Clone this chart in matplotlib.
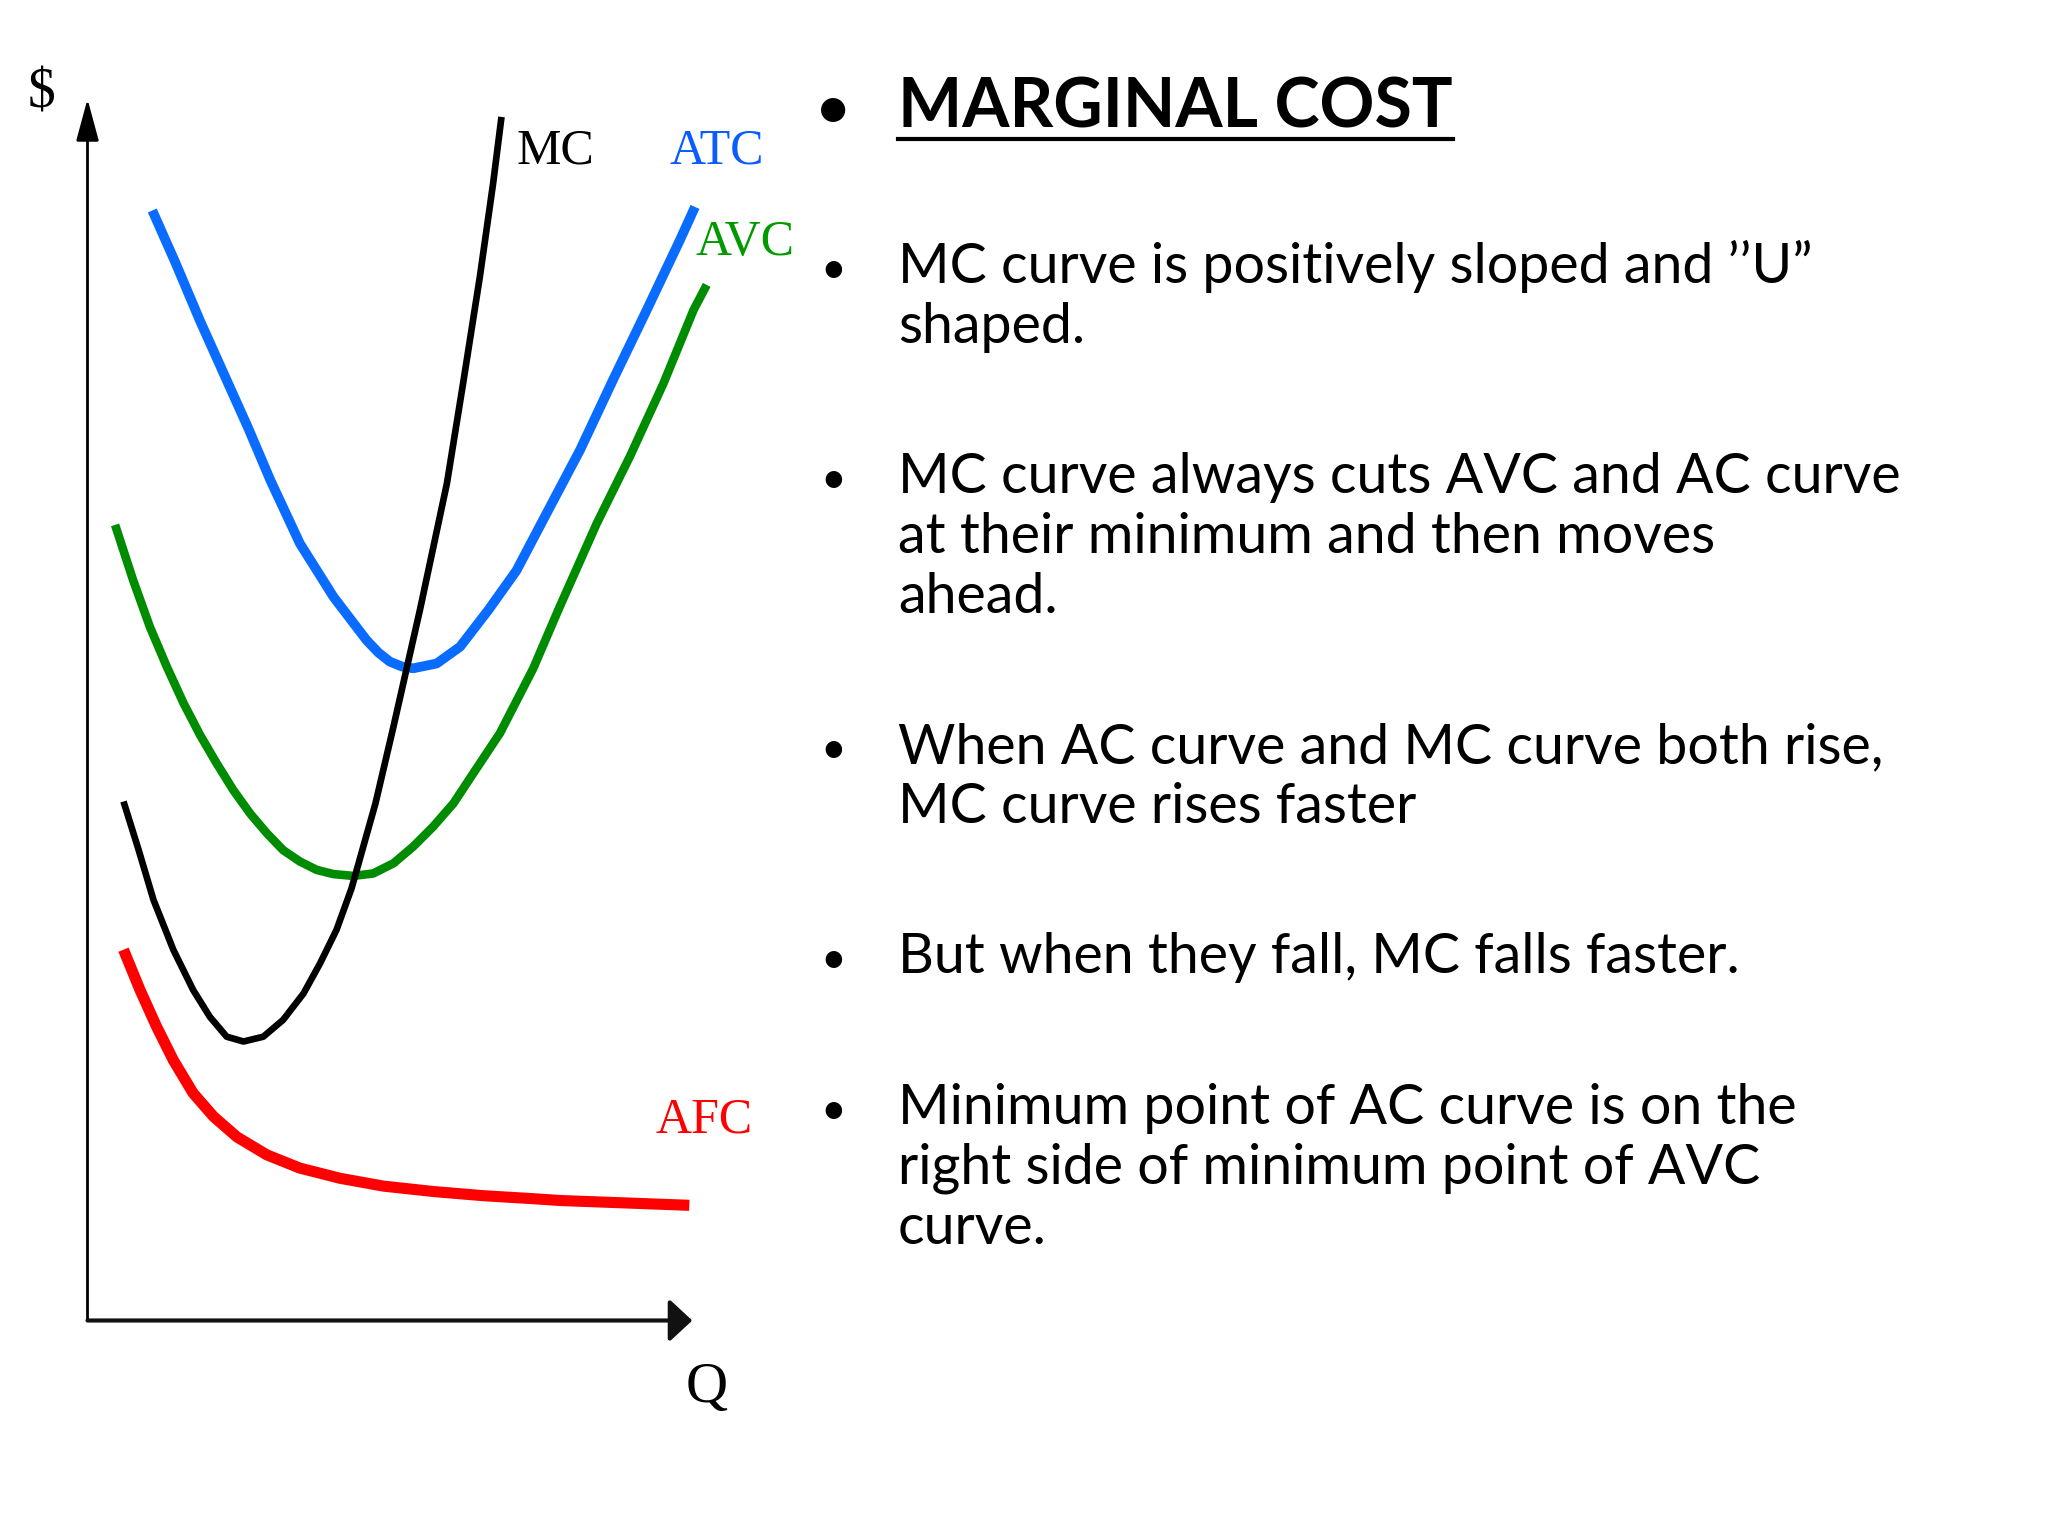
import matplotlib
matplotlib.use("Agg")
import matplotlib.pyplot as plt
from matplotlib.lines import Line2D

# ---- curve data (Q, cost) ----
atc_q = [1.08, 1.47, 1.88, 2.28, 2.68, 3.05, 3.54, 4.10, 4.65, 4.85, 5.04, 5.24, 5.43,
         5.82, 6.21, 6.68, 7.15, 7.65, 8.21, 8.76, 9.32, 9.875, 10.125]
atc_c = [18.50, 17.62, 16.65, 15.76, 14.87, 14.00, 12.95, 12.06, 11.34, 11.13, 10.98, 10.90, 10.87,
         10.95, 11.23, 11.84, 12.50, 13.45, 14.51, 15.68, 16.84, 18.01, 18.56]

avc_q = [0.46, 0.76, 1.04, 1.32, 1.60, 1.875, 2.15, 2.43, 2.71, 2.99, 3.26, 3.54, 3.82,
         4.10, 4.43, 4.76, 5.10, 5.43, 5.76, 6.10, 6.43, 6.875, 7.43, 7.85, 8.49, 9.04,
         9.60, 10.10, 10.32]
avc_c = [13.26, 12.34, 11.56, 10.90, 10.29, 9.76, 9.29, 8.84, 8.45, 8.12, 7.84, 7.65, 7.51,
         7.44, 7.41, 7.45, 7.62, 7.90, 8.23, 8.62, 9.12, 9.79, 10.87, 11.85, 13.29, 14.40,
         15.62, 16.84, 17.26]

mc_q = [0.60, 0.85, 1.10, 1.43, 1.76, 2.04, 2.32, 2.60, 2.93, 3.26, 3.60, 3.875, 4.15,
        4.40, 4.80, 5.10, 5.54, 5.99, 6.26, 6.54, 6.76, 6.90]
mc_c = [8.65, 7.85, 7.01, 6.18, 5.51, 5.06, 4.73, 4.65, 4.73, 5.01, 5.45, 5.95, 6.51,
        7.20, 8.62, 9.90, 11.84, 13.95, 15.62, 17.40, 18.95, 20.06]

afc_q = [0.60, 0.875, 1.15, 1.43, 1.76, 2.10, 2.49, 2.99, 3.54, 4.21, 4.93, 5.76, 6.60,
         7.43, 7.875, 8.95, 10.03]
afc_c = [6.18, 5.51, 4.90, 4.34, 3.79, 3.40, 3.06, 2.76, 2.54, 2.37, 2.24, 2.15, 2.08,
         2.03, 2.00, 1.96, 1.92]

# axis extents
Q_MAX = 10.08
C_MAX = 20.36

# curve labels (name, Q, cost, colour)
curve_labels = [("MC", 7.80, 19.49, "black"),
                ("ATC", 10.48, 19.49, "#0a5cff"),
                ("AVC", 10.96, 17.96, "#009a00"),
                ("AFC", 10.28, 3.34, "#ff0000")]

# ---- slide text ----
title = "MARGINAL COST"
bullets = [
    ["MC curve is positively sloped and \u2019\u2019U\u201d", "shaped."],
    ["MC curve always cuts AVC and AC curve", "at their minimum and then moves", "ahead."],
    ["When AC curve and MC curve both rise,", "MC curve rises faster"],
    ["But when they fall, MC falls faster."],
    ["Minimum point of AC curve is on the", "right side of minimum point of AVC", "curve."],
]
bullet_baselines = [283, 493, 763, 973, 1124]   # pixel rows of first line baseline
LINE_STEP = 60

W, H = 2048, 1536
fig = plt.figure(figsize=(W / 100, H / 100), dpi=100)
fig.patch.set_facecolor("white")

# chart axes spanning the whole figure, origin of the diagram at pixel (87.5, 1320.5)
ax = fig.add_axes([0, 0, 1, 1])
ax.set_xlim(-87.5 / 60, (W - 87.5) / 60)
ax.set_ylim((1320.5 - H) / 60, 1320.5 / 60)
ax.axis("off")

# axes with arrows
ax.annotate("", xy=(0, C_MAX), xytext=(0, 0),
            arrowprops=dict(arrowstyle="-|>,head_length=2.6,head_width=0.7",
                            lw=2.0, color="black", mutation_scale=10,
                            shrinkA=0, shrinkB=0))
ax.annotate("", xy=(Q_MAX, 0), xytext=(0, 0),
            arrowprops=dict(arrowstyle="-|>,head_length=1.4,head_width=1.3",
                            lw=3.0, color="#111111", mutation_scale=10,
                            shrinkA=0, shrinkB=0))

ax.plot(atc_q, atc_c, color="#0a6cff", lw=7.0, solid_capstyle="butt", solid_joinstyle="round")
ax.plot(avc_q, avc_c, color="#008c00", lw=6.2, solid_capstyle="butt", solid_joinstyle="round")
ax.plot(mc_q, mc_c, color="black", lw=4.8, solid_capstyle="butt", solid_joinstyle="round")
ax.plot(afc_q, afc_c, color="#ff0000", lw=8.0, solid_capstyle="butt", solid_joinstyle="round")

serif = "Liberation Serif"
for name, q, c, col in curve_labels:
    ax.text(q, c, name, color=col, fontsize=36, family=serif,
            ha="center", va="center")
ax.text(-0.76, 20.45, "$", fontsize=40, family=serif, ha="center", va="center")
ax.text(10.32, -1.12, "Q", fontsize=42, family=serif, ha="center", va="center")

# ---- right-hand text ----
sans = "Lato"
TEXT_X = 898 / W
BULLET_X = 833 / W

t = fig.text(TEXT_X, 1 - 127 / H, title, fontsize=49, fontweight="bold",
             family=sans, ha="left", va="baseline")
fig.text(BULLET_X, 1 - 127 / H, "\u2022", fontsize=40, fontweight="bold",
         family=sans, ha="center", va="baseline")

fig.canvas.draw()
bb = t.get_window_extent(fig.canvas.get_renderer())
fig.add_artist(Line2D([bb.x0 / W, bb.x1 / W], [1 - 139 / H, 1 - 139 / H],
                      transform=fig.transFigure, color="black", lw=3.0))

for lines, base in zip(bullets, bullet_baselines):
    fig.text(BULLET_X, 1 - base / H, "\u2022", fontsize=32, family=sans,
             ha="center", va="baseline")
    for i, line in enumerate(lines):
        fig.text(TEXT_X, 1 - (base + i * LINE_STEP) / H, line, fontsize=40,
                 family=sans, ha="left", va="baseline")

fig.savefig("out.png", dpi=100)
